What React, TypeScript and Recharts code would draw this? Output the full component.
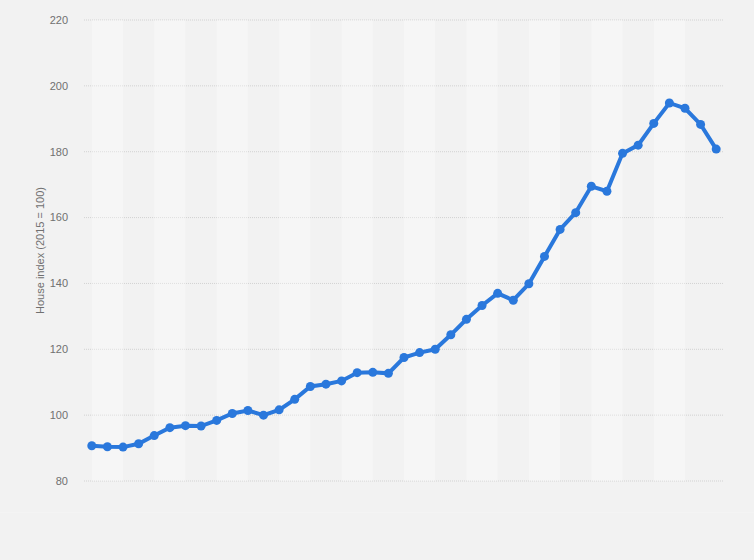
import React from 'react';
import { LineChart, Line, XAxis, YAxis, CartesianGrid, ReferenceArea } from 'recharts';

const quarters: string[] = [];
for (let y = 2013; y <= 2023; y++) {
  for (let q = 1; q <= 4; q++) {
    if (quarters.length < 41) quarters.push(`Q${q} '${String(y).slice(2)}`);
  }
}

const houseIndex = [
  90.7, 90.4, 90.3, 91.3, 93.8, 96.2, 96.8, 96.7, 98.4, 100.5,
  101.4, 100.0, 101.6, 104.8, 108.7, 109.4, 110.4, 112.9, 113.0, 112.7,
  117.5, 119.0, 120.0, 124.4, 129.1, 133.3, 137.0, 134.9, 139.9, 148.2,
  156.4, 161.5, 169.5, 168.0, 179.5, 182.0, 188.6, 194.8, 193.2, 188.3,
  180.8,
];

const yTicks = [80, 100, 120, 140, 160, 180, 200, 220];

const data = quarters.map((q, i) => ({ q, v: houseIndex[i] }));

const stripes: [string, string][] = [];
for (let i = 0; i + 2 < quarters.length; i += 4) {
  stripes.push([quarters[i], quarters[i + 2]]);
}

const BLUE = '#2a78dc';
const FONT = '"Liberation Sans", Arial, sans-serif';

export default function App() {
  return (
    <div style={{ position: 'absolute', left: 0, top: 0, width: 754, height: 560, background: '#f2f2f2', fontFamily: FONT }}>
      <div style={{ position: 'absolute', left: 0, top: 512, width: 754, height: 1, background: '#f4f4f4' }} />
      <div style={{ position: 'absolute', left: 0, top: 0 }}>
        <LineChart width={754} height={560} data={data} margin={{ top: 20, right: 30, bottom: 79, left: 0 }}>
          <CartesianGrid vertical={false} stroke="#d2d2d2" strokeDasharray="1 1" />
          {stripes.map(([a, b], i) => (
            <ReferenceArea key={i} x1={a} x2={b} fill="#ffffff" fillOpacity={0.3} stroke="none" ifOverflow="visible" />
          ))}
          <XAxis dataKey="q" hide padding={{ left: 7.8, right: 7.8 }} />
          <YAxis
            width={84}
            domain={[80, 220]}
            ticks={yTicks}
            axisLine={false}
            tickLine={false}
            tickSize={0}
            tickMargin={16}
            tick={{ fill: '#707070', fontSize: 11, fontFamily: FONT }}
            label={{ value: 'House index (2015 = 100)', angle: -90, position: 'center', dx: -2, fill: '#707070', fontSize: 11, fontFamily: FONT }}
          />
          <Line
            type="linear"
            dataKey="v"
            stroke={BLUE}
            strokeWidth={4}
            dot={{ r: 4.5, fill: BLUE, stroke: 'none' }}
            activeDot={false}
            isAnimationActive={false}
          />
        </LineChart>
      </div>
    </div>
  );
}
